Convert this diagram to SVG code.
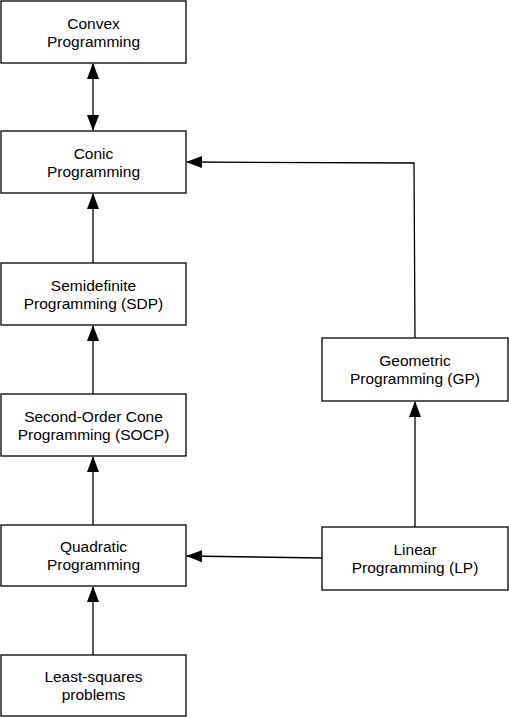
<svg xmlns="http://www.w3.org/2000/svg" width="509" height="718" viewBox="0 0 509 718">
<style>
.box{fill:#fff;stroke:#000;stroke-width:1.3}
.t{font-family:"Liberation Sans",Arial,sans-serif;font-size:15.5px;fill:#000;text-anchor:middle}
.c{fill:none;stroke:#000;stroke-width:1.3}
</style>
<defs>
<marker id="ah" viewBox="0 0 16 12" refX="15" refY="6" markerWidth="16" markerHeight="12" markerUnits="userSpaceOnUse" orient="auto-start-reverse">
<path d="M0,0 L16,6 L0,12 Z" fill="#000"/>
</marker>
</defs>
<rect width="509" height="718" fill="#fff"/>
<g id="connectors">
<line class="c" x1="93" y1="64" x2="93" y2="130" marker-start="url(#ah)" marker-end="url(#ah)"/>
<line class="c" x1="93" y1="263" x2="93" y2="194" marker-end="url(#ah)"/>
<line class="c" x1="93" y1="394" x2="93" y2="326" marker-end="url(#ah)"/>
<line class="c" x1="93" y1="525" x2="93" y2="457" marker-end="url(#ah)"/>
<line class="c" x1="93" y1="655" x2="93" y2="587" marker-end="url(#ah)"/>
<line class="c" x1="322" y1="558" x2="187" y2="556" marker-end="url(#ah)"/>
<line class="c" x1="415" y1="527" x2="415" y2="402" marker-end="url(#ah)"/>
<polyline class="c" points="415,338 414,163 187,162" marker-end="url(#ah)"/>
</g>
<g id="convex">
<rect class="box" x="1" y="1" width="185" height="62"/>
<text class="t" x="93.5" y="29">Convex</text>
<text class="t" x="93.5" y="47">Programming</text>
</g>
<g id="conic">
<rect class="box" x="1" y="131" width="185" height="62"/>
<text class="t" x="93.5" y="159">Conic</text>
<text class="t" x="93.5" y="177">Programming</text>
</g>
<g id="sdp">
<rect class="box" x="1" y="263" width="185" height="62"/>
<text class="t" x="93.5" y="291">Semidefinite</text>
<text class="t" x="93.5" y="309">Programming (SDP)</text>
</g>
<g id="socp">
<rect class="box" x="1" y="394" width="185" height="62"/>
<text class="t" x="93.5" y="422">Second-Order Cone</text>
<text class="t" x="93.5" y="440">Programming (SOCP)</text>
</g>
<g id="qp">
<rect class="box" x="1" y="525" width="185" height="61"/>
<text class="t" x="93.5" y="552">Quadratic</text>
<text class="t" x="93.5" y="570">Programming</text>
</g>
<g id="ls">
<rect class="box" x="1" y="655" width="185" height="61"/>
<text class="t" x="93.5" y="682">Least-squares</text>
<text class="t" x="93.5" y="700">problems</text>
</g>
<g id="gp">
<rect class="box" x="322" y="338" width="186" height="63"/>
<text class="t" x="415" y="366">Geometric</text>
<text class="t" x="415" y="384">Programming (GP)</text>
</g>
<g id="lp">
<rect class="box" x="322" y="527" width="186" height="63"/>
<text class="t" x="415" y="555">Linear</text>
<text class="t" x="415" y="573">Programming (LP)</text>
</g>
</svg>
